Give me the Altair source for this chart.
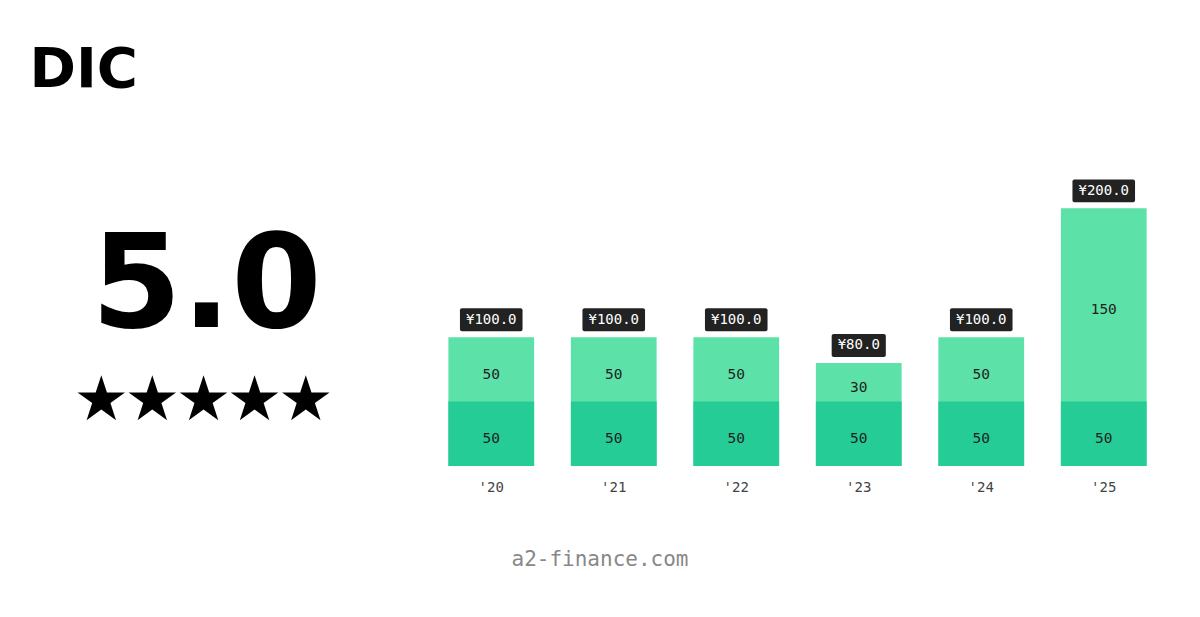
import altair as alt
import pandas as pd

years = ["'20", "'21", "'22", "'23", "'24", "'25"]
first_segment = [50, 50, 50, 50, 50, 50]
second_segment = [50, 50, 50, 30, 50, 150]
ticker = "DIC"
score = "5.0"
star_glyph = "★"
star_count = 5
footer = "a2-finance.com"
seg_colors = ["#25CC96", "#5CE2A8"]

rows = []
for y, a, b in zip(years, first_segment, second_segment):
    rows.append({"year": y, "order": 0, "value": a})
    rows.append({"year": y, "order": 1, "value": b})
long_df = pd.DataFrame(rows)
tot_df = pd.DataFrame({
    "year": years,
    "first": first_segment,
    "total": [a + b for a, b in zip(first_segment, second_segment)],
})
tot_df["label"] = tot_df["total"].map(lambda v: f"¥{v:.1f}")
tot_df["tag_lo"] = tot_df["total"] + 4.6
tot_df["tag_hi"] = tot_df["total"] + 22.4
tot_df["tag_mid"] = tot_df["total"] + 13.6
tot_df["tag_w"] = tot_df["label"].str.len() * 8.43 + 12

MONO = "DejaVu Sans Mono"
SANS = "DejaVu Sans"

x_enc = alt.X(
    "year:N", sort=years, title=None,
    scale=alt.Scale(range=[422, 1157], paddingInner=0.3, paddingOuter=0.15),
    axis=alt.Axis(domain=False, ticks=False, grid=False, labelAngle=0, labelFont=MONO,
                  labelFontSize=14, labelColor="#444444", labelPadding=14, offset=-143),
)
y_scale = alt.Scale(domain=[0, 200], range=[458, 200.3])


def yq(field):
    return alt.Y(field, scale=y_scale, axis=None, title=None)


tot = alt.Chart(tot_df)
light = tot.mark_bar(color=seg_colors[1]).transform_calculate(zero="0").encode(
    x=x_enc, y=yq("zero:Q"), y2="total:Q"
)
dark = tot.mark_bar(color=seg_colors[0]).transform_calculate(zero="0").encode(
    x=x_enc, y=yq("zero:Q"), y2="first:Q"
)

base = alt.Chart(long_df).transform_stack(
    stack="value", groupby=["year"], sort=[alt.SortField("order")], as_=["y0", "y1"]
).transform_calculate(mid="(datum.y0 + datum.y1) / 2")

seg_text = base.mark_text(font=MONO, fontSize=14.5, color="#1f1f1f", baseline="middle", dy=5.5).encode(
    x=x_enc,
    y=yq("mid:Q"),
    text=alt.Text("value:Q"),
)
tags = tot.mark_bar(cornerRadius=2, color="#222222").encode(
    x=x_enc,
    y=yq("tag_lo:Q"),
    y2="tag_hi:Q",
    size=alt.Size("tag_w:Q", scale=None, legend=None),
)
tag_text = tot.mark_text(font=MONO, fontSize=14, color="#ffffff", baseline="middle").encode(
    x=x_enc,
    y=yq("tag_mid:Q"),
    text="label:N",
)


def note(text, x, y, size, font, weight, color, align):
    return alt.Chart(pd.DataFrame({"t": [text]})).mark_text(
        font=font, fontSize=size, fontWeight=weight, color=color, align=align, baseline="alphabetic"
    ).encode(x=alt.value(x), y=alt.value(y), text="t:N")


star_layers = [
    note(star_glyph, 195.5 + 51.1 * (i - (star_count - 1) / 2), 412, 62, SANS, "normal", "#000000", "center")
    for i in range(star_count)
]

chart = alt.layer(
    light, dark, seg_text, tags, tag_text,
    note(ticker, 21.5, 79, 56, SANS, "bold", "#000000", "left"),
    note(score, 198.5, 319, 130, SANS, "bold", "#000000", "center"),
    *star_layers,
    note(footer, 592, 558, 21, MONO, "normal", "#888888", "center"),
).properties(
    width=1184, height=601, padding=0,
    autosize=alt.AutoSizeParams(type="none"),
    background="#ffffff",
).configure_view(stroke=None)

chart.save("out.html", embed_options={"renderer": "svg", "actions": False})
